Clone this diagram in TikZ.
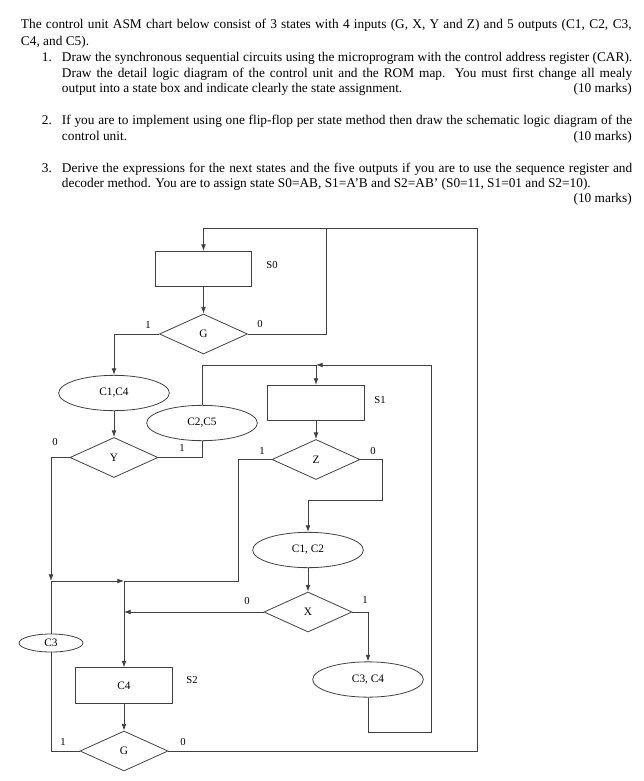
\documentclass[tikz,border=0pt]{standalone}
\usepackage{fontspec}
\setmainfont{Liberation Serif}
\usetikzlibrary{arrows.meta,shapes.geometric,calc}

\begin{document}
\begin{tikzpicture}[x=0.75pt, y=-0.75pt, >={Latex[length=5pt,width=3.6pt]},
  line/.style={draw=black!75, line width=0.6pt},
  statebox/.style={line, rectangle, minimum width=72.5pt, minimum height=26.5pt, inner sep=0pt, font=\fontsize{8.5}{10}\selectfont},
  decision/.style={line, diamond, minimum width=66pt, minimum height=30pt, inner sep=0pt, font=\fontsize{8.5}{10}\selectfont},
  condbox/.style={line, ellipse, minimum width=83pt, minimum height=26.5pt, inner sep=0pt, font=\fontsize{8.5}{10}\selectfont},
  txt/.style={inner sep=0pt, anchor=base west, font=\fontsize{10}{12}\selectfont},
  marks/.style={inner sep=0pt, anchor=base east, font=\fontsize{10}{12}\selectfont},
  lbl/.style={inner sep=0pt, font=\fontsize{8}{9}\selectfont}]

% Page size
\useasboundingbox (0,0) rectangle (643,781);

% Question text
\node[txt] (q0a) at (20.7,29) {\makebox[458pt][s]{The control unit ASM chart below consist of 3 states with 4 inputs (G, X, Y and Z) and 5 outputs (C1, C2, C3,}};
\node[txt] (q0b) at (20.7,46) {C4, and C5).};

\node[txt] (n1) at (41.7,62) {1.};
\node[txt] (q1a) at (61.7,62) {\makebox[427.7pt][s]{Draw the synchronous sequential circuits using the microprogram with the control address register (CAR).}};
\node[txt] (q1b) at (61.7,78) {\makebox[427.7pt][s]{Draw the detail logic diagram of the control unit and the ROM map. You must first change all mealy}};
\node[txt] (q1c) at (61.7,93) {output into a state box and indicate clearly the state assignment.};
\node[marks] (m1) at (632,93) {(10 marks)};

\node[txt] (n2) at (41.7,125) {2.};
\node[txt] (q2a) at (61.7,125) {\makebox[427.7pt][s]{If you are to implement using one flip-flop per state method then draw the schematic logic diagram of the}};
\node[txt] (q2b) at (61.7,141) {control unit.};
\node[marks] (m2) at (632,141) {(10 marks)};

\node[txt] (n3) at (41.7,172) {3.};
\node[txt] (q3a) at (61.7,172) {\makebox[427.7pt][s]{Derive the expressions for the next states and the five outputs if you are to use the sequence register and}};
\node[txt] (q3b) at (61.7,187) {decoder method. You are to assign state S0=AB, S1=A'B and S2=AB' (S0=11, S1=01 and S2=10).};
\node[marks] (m3) at (632,202) {(10 marks)};

% State S0
\node[statebox] (S0) at (203.5,269) {};
\node[lbl] (S0lab) at (272,265) {S0};
\node[decision] (G0) at (203.5,334) {G};

% Conditional outputs after S0
\node[condbox] (C14) at (114,393) {C1,C4};
\node[decision] (Yd) at (114,457.5) {Y};
\node[condbox] (C25) at (202,423) {C2,C5};

% State S1
\node[statebox] (S1) at (316,403) {};
\node[lbl] (S1lab) at (380,400) {S1};
\node[decision] (Zd) at (316,459.5) {Z};
\node[condbox] (C12) at (308,550) {C1, C2};
\node[decision] (Xd) at (308,612) {X};
\node[condbox] (C34) at (368,679.5) {C3, C4};

% State S2
\node[condbox, minimum width=48pt, minimum height=13.5pt] (C3) at (51,643) {C3};
\node[statebox] (S2) at (124,685.5) {C4};
\node[lbl] (S2lab) at (192,680) {S2};
\node[decision] (G2) at (124,751) {G};

% Junctions
\coordinate (Top) at (203.5,228);
\coordinate (TopR) at (477,228);
\coordinate (G0up) at (326,228);
\coordinate (S1in) at (316,365);
\coordinate (S2in) at (124,581);
\coordinate (J3) at (51,581);
\coordinate (Z1c) at (238,581);
\coordinate (Z0c) at (382,500);
\coordinate (LoopB) at (368,732);
\coordinate (LoopR) at (431,732);

% Paths
\draw[line,->] (Top) -- (S0.north);
\draw[line,->] (S0) -- (G0);
\draw[line,->] (G0.west) -| (C14.north);
\draw[line] (G0.east) -| (G0up);
\draw[line,->] (C14) -- (Yd);
\draw[line] (Yd.east) -| (C25.south);
\draw[line] (C25.north) |- (S1in);
\draw[line,->] (C34.south) -- (LoopB) -- (LoopR) |- (S1in);
\draw[line,->] (S1in) -- (S1.north);
\draw[line,->] (S1) -- (Zd);
\draw[line] (Zd.west) -| (Z1c) -- (S2in);
\draw[line,->] (Zd.east) -| (Z0c) -| (C12.north);
\draw[line,->] (C12) -- (Xd);
\draw[line,->] (Xd.west) -- (Xd.west -| S2in);
\draw[line,->] (Xd.east) -| (C34.north);
\draw[line,->] (Yd.west) -| (J3);
\draw[line,->] (J3) -- (S2in);
\draw[line,->] (S2in) -- (S2.north);
\draw[line,->] (S2) -- (G2);
\draw[line] (G2.west) -| (C3.south);
\draw[line] (C3.north) -- (J3);
\draw[line] (G2.east) -| (TopR) -- (Top);

% Branch labels
\node[lbl] (g0one) at (148,325) {1};
\node[lbl] (g0zero) at (260,324) {0};
\node[lbl] (yzero) at (55,442) {0};
\node[lbl] (yone) at (182,448) {1};
\node[lbl] (zone) at (262,451) {1};
\node[lbl] (zzero) at (373,451) {0};
\node[lbl] (xzero) at (247,601) {0};
\node[lbl] (xone) at (365,600) {1};
\node[lbl] (g2one) at (63,742) {1};
\node[lbl] (g2zero) at (183,742) {0};

\end{tikzpicture}
\end{document}
